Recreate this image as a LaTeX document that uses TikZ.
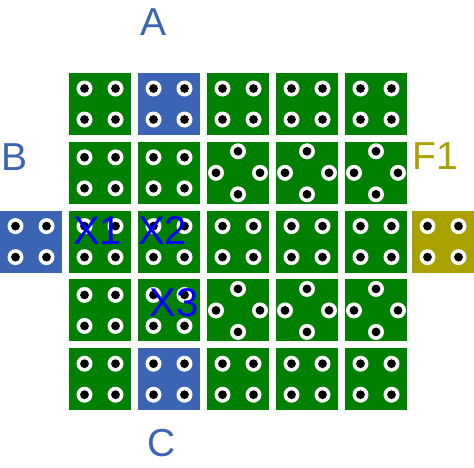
\documentclass[tikz,border=0pt]{standalone}
\usepackage{fontspec}
\setmainfont{Liberation Sans}
\definecolor{boardgreen}{RGB}{0,128,0}
\definecolor{portblue}{RGB}{60,100,180}
\definecolor{fuseolive}{RGB}{170,160,0}
\tikzset{
  tile/.style={rectangle, minimum size=62pt, inner sep=0pt},
  portlabel/.style={text=portblue, font=\fontsize{39}{39}\selectfont, anchor=base, inner sep=0pt},
  fuselabel/.style={portlabel, text=fuseolive},
  crosslabel/.style={text=blue, font=\fontsize{40}{40}\selectfont, anchor=base, inner sep=0pt}
}
\newcommand{\drill}[1]{\fill[white] (#1) circle (8pt); \fill[black] (#1) circle (4.4pt);}
\newcommand{\squaretile}[3]{%
  \node[tile, fill=#3] (#1) at (#2) {};
  \drill{[shift={(-15.5,-15.5)}]#1.center}
  \drill{[shift={(15.5,-15.5)}]#1.center}
  \drill{[shift={(-15.5,15.5)}]#1.center}
  \drill{[shift={(15.5,15.5)}]#1.center}}
\newcommand{\diamondtile}[2]{%
  \node[tile, fill=boardgreen] (#1) at (#2) {};
  \drill{[shift={(0,-21.5)}]#1.center}
  \drill{[shift={(-22,0)}]#1.center}
  \drill{[shift={(22,0)}]#1.center}
  \drill{[shift={(0,21.5)}]#1.center}}
\begin{document}
\begin{tikzpicture}[x=1pt, y=-1pt]
  \useasboundingbox (0,0) rectangle (474,467);
  % row 1
  \squaretile{t11}{100,104}{boardgreen}
  \squaretile{t12}{169,104}{portblue}
  \squaretile{t13}{238,104}{boardgreen}
  \squaretile{t14}{307,104}{boardgreen}
  \squaretile{t15}{376,104}{boardgreen}
  % row 2
  \squaretile{t21}{100,172.8}{boardgreen}
  \squaretile{t22}{169,172.8}{boardgreen}
  \diamondtile{t23}{238,172.8}
  \diamondtile{t24}{307,172.8}
  \diamondtile{t25}{376,172.8}
  % row 3
  \squaretile{pB}{31,241.6}{portblue}
  \squaretile{t31}{100,241.6}{boardgreen}
  \squaretile{t32}{169,241.6}{boardgreen}
  \squaretile{t33}{238,241.6}{boardgreen}
  \squaretile{t34}{307,241.6}{boardgreen}
  \squaretile{t35}{376,241.6}{boardgreen}
  \squaretile{pF}{443,241.6}{fuseolive}
  % row 4
  \squaretile{t41}{100,310.4}{boardgreen}
  \squaretile{t42}{169,310.4}{boardgreen}
  \diamondtile{t43}{238,310.4}
  \diamondtile{t44}{307,310.4}
  \diamondtile{t45}{376,310.4}
  % row 5
  \squaretile{t51}{100,379.2}{boardgreen}
  \squaretile{t52}{169,379.2}{portblue}
  \squaretile{t53}{238,379.2}{boardgreen}
  \squaretile{t54}{307,379.2}{boardgreen}
  \squaretile{t55}{376,379.2}{boardgreen}
  % labels
  \node[portlabel] (labA) at (154,35) {A};
  \node[portlabel] (labB) at (15,170) {B};
  \node[portlabel] (labC) at (161.5,456) {C};
  \node[fuselabel] (labF) at (435,169.5) {F1};
  \node[crosslabel] (labX1) at (97.5,244) {X1};
  \node[crosslabel] (labX2) at (162.5,244) {X2};
  \node[crosslabel] (labX3) at (174,316) {X3};
\end{tikzpicture}
\end{document}
